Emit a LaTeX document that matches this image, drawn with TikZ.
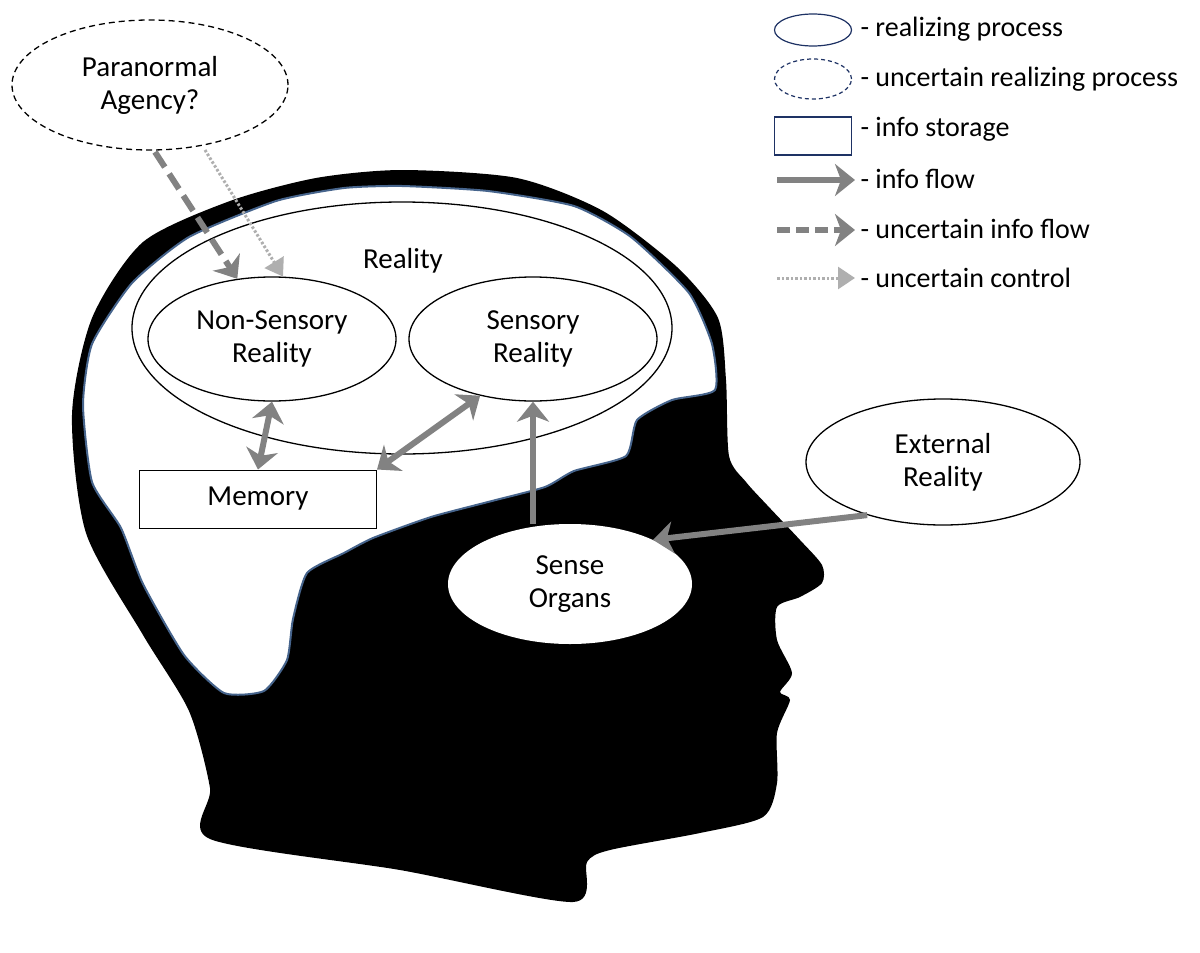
\documentclass[tikz,border=0pt]{standalone}
\usepackage{fontspec}
\setmainfont{Carlito}
\usetikzlibrary{arrows.meta,shapes.geometric}
\definecolor{brainblue}{RGB}{70,100,140}
\definecolor{legblue}{RGB}{30,50,100}
\definecolor{arrgray}{RGB}{130,130,130}
\definecolor{dotgray}{RGB}{175,175,175}
\begin{document}
\begin{tikzpicture}[x=1pt,y=-1pt,
  lbl/.style={font=\fontsize{29}{33}\selectfont, align=center},
  proc/.style={ellipse, draw=black, line width=1.3pt, fill=white, lbl, inner sep=0pt},
  flow/.style={draw=arrgray, line width=6pt, -{Stealth[length=20pt,width=32pt,inset=6pt]}},
  dflow/.style={flow, dash pattern=on 18pt off 8pt},
  dctrl/.style={draw=dotgray, line width=3pt, dash pattern=on 2.5pt off 2pt, -{Triangle[length=17pt,width=22pt]}},
  bflow/.style={draw=arrgray, line width=6pt, {Stealth[length=20pt,width=32pt,inset=6pt]}-{Stealth[length=20pt,width=32pt,inset=6pt]}},
  legtxt/.style={font=\fontsize{28}{32}\selectfont, anchor=west}]
\useasboundingbox (0,0) rectangle (1200,953);
% head silhouette
\fill[black] plot[smooth cycle, tension=0.45] coordinates {
 (72,415) (92,318) (143,242) (230,201) (316,178) (402,170) (517,178) (603,211) (677,267)
 (718,318) (726,380) (729,456) (746,482) (767,505) (800,540) (822,565) (822,583) (800,597) (777,607)
 (777,640) (792,673) (780,692) (790,700) (777,733) (777,783) (763,817) (700,833) (610,850) (587,862) (573,902)
 (400,870) (210,839) (210,788) (189,711) (143,635) (86,533)};
% brain region
\filldraw[fill=white, draw=brainblue, line width=2pt] plot[smooth cycle, tension=0.35] coordinates {
 (224,693) (264,691) (287,660) (293,619) (307,573) (344,553) (373,538) (431,517) (488,502) (545,487)
 (574,471) (626,456) (637,420) (672,400) (715,390) (712,344) (689,293) (631,237) (574,206) (488,191)
 (402,186) (344,188) (276,201) (189,237) (132,283) (92,344) (83,405) (92,482) (121,528) (143,584) (184,655)};
% nodes
\node[proc, minimum width=540pt, minimum height=252pt] (real) at (402,328) {};
\node[lbl] (reallbl) at (403,261) {Reality};
\node[proc, minimum width=248pt, minimum height=124pt] (nsr) at (272,339) {Non-Sensory\\Reality};
\node[proc, minimum width=248pt, minimum height=124pt] (sr) at (533,339) {Sensory\\Reality};
\node[draw=black, line width=1pt, fill=white, lbl, minimum width=237pt, minimum height=58pt, inner sep=0pt] (mem) at (258,499) {Memory};
\node[ellipse, fill=white, lbl, minimum width=244pt, minimum height=120pt, inner sep=0pt] (sense) at (570,584) {Sense\\Organs};
\node[proc, minimum width=274pt, minimum height=126pt] (ext) at (943,462) {External\\Reality};
\node[proc, dash pattern=on 6pt off 4pt, minimum width=276pt, minimum height=130pt] (para) at (150,85) {Paranormal\\Agency?};
% connectors
\coordinate (pa1) at (155,152);
\coordinate (pa2) at (205,150);
\draw[dflow] (pa1) -- (nsr.120);
\draw[dctrl] (pa2) -- (nsr.80);
\draw[bflow] (nsr.south) -- (mem.north);
\draw[bflow] (mem.north east) -- (sr.227);
\draw[flow] (sense.north -| sr.south) -- (sr.south);
\draw[flow] (ext.215) -- (sense.28);
% legend
\node[ellipse, draw=legblue, line width=1.2pt, minimum width=77pt, minimum height=32pt, inner sep=0pt] (l1) at (813,30) {};
\node[ellipse, draw=legblue, line width=1.2pt, dash pattern=on 4pt off 3pt, minimum width=77pt, minimum height=40pt, inner sep=0pt] (l2) at (813,79) {};
\node[draw=legblue, line width=1.2pt, minimum width=77pt, minimum height=38pt, inner sep=0pt] (l3) at (813,136) {};
\coordinate (a1s) at (777,180); \coordinate (a1e) at (855,180);
\coordinate (a2s) at (777,230); \coordinate (a2e) at (855,230);
\coordinate (a3s) at (777,278); \coordinate (a3e) at (855,278);
\draw[flow] (a1s) -- (a1e);
\draw[dflow, dash pattern=on 13pt off 6pt] (a2s) -- (a2e);
\draw[dctrl] (a3s) -- (a3e);
\node[legtxt] (t1) at (857,29) {- realizing process};
\node[legtxt] (t2) at (857,79) {- uncertain realizing process};
\node[legtxt] (t3) at (857,129) {- info storage};
\node[legtxt] (t4) at (857,179) {- info flow};
\node[legtxt] (t5) at (857,229) {- uncertain info flow};
\node[legtxt] (t6) at (857,278) {- uncertain control};
\end{tikzpicture}
\end{document}
